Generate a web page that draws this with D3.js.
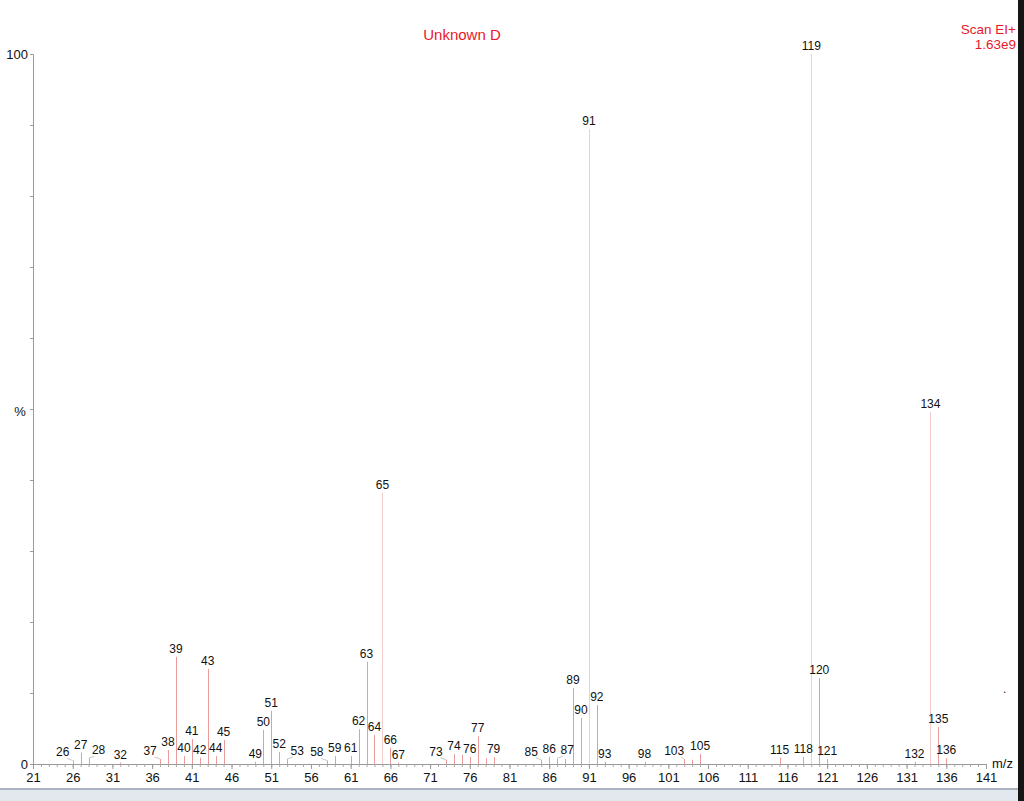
<!DOCTYPE html>
<html lang="en">
<head>
  <meta charset="UTF-8">
  <title>Unknown D</title>
  <script src="https://d3js.org/d3.v7.min.js"></script>
  <style>
    body { margin: 0; background: #fff; }
    svg { display: block; font-family: "Liberation Sans", Arial, Helvetica, sans-serif; }
  </style>
</head>
<body>
  <div id="spectrum"></div>
  <script>
    // peak list (m/z, relative intensity %)
    const mz = [26, 27, 28, 32, 37, 38, 39, 40, 41, 42, 43, 44, 45, 49, 50, 51, 52, 53,
                58, 59, 61, 62, 63, 64, 65, 66, 67, 73, 74, 75, 76, 77, 78, 79, 85, 86,
                87, 88, 89, 90, 91, 92, 93, 98, 103, 104, 105, 115, 118, 119, 120, 121,
                132, 134, 135, 136];
    const intensity = [0.5, 1.6, 0.8, 0.2, 0.7, 2.0, 15.1, 1.1, 3.5, 0.9, 13.4, 1.1, 3.4, 0.3, 4.8, 7.5, 1.7, 0.7,
                       0.5, 1.1, 1.1, 4.9, 14.4, 4.1, 38.2, 2.3, 0.2, 0.6, 1.4, 1.3, 1.0, 3.9, 0.8, 1.0, 0.6, 1.0,
                       0.8, 0.7, 10.7, 6.5, 89.4, 8.3, 0.3, 0.3, 0.7, 0.6, 1.4, 0.9, 1.0, 100, 12.1, 0.7,
                       0.3, 49.6, 5.2, 0.8];
    const unlabeled = [75, 78, 88, 104];
    const xTicks = d3.range(21, 142, 5);
    const yTicks = [0, 100];
    const title = "Unknown D";
    const scanInfo = ["Scan EI+", "1.63e9"];

    const W = 1024, H = 801;
    const margin = { top: 54, right: 38, bottom: 37, left: 33 };
    const plotH = H - margin.top - margin.bottom;

    const svg = d3.select("#spectrum").append("svg")
      .attr("width", W).attr("height", H);

    const x = d3.scaleLinear().domain([21, 141]).range([margin.left, 986]);
    const y = d3.scaleLinear().domain([0, 100]).range([margin.top + plotH, margin.top]);

    // window chrome at the edges of the screenshot
    svg.append("rect").attr("x", 0).attr("y", 788).attr("width", 1018).attr("height", 13).attr("fill", "#e3e7ee");
    svg.append("rect").attr("x", 0).attr("y", 788).attr("width", 1018).attr("height", 2).attr("fill", "#a9b2c0");
    svg.append("rect").attr("x", 1018).attr("y", 0).attr("width", 6).attr("height", H).attr("fill", "#151515");

    // titles
    svg.append("text").attr("x", 462).attr("y", 40).attr("text-anchor", "middle")
      .attr("font-size", 15).attr("fill", "#e8182a").text(title);
    svg.append("g").selectAll("text").data(scanInfo).join("text")
      .attr("x", 1016).attr("y", (d, i) => 34 + i * 15).attr("text-anchor", "end")
      .attr("font-size", 13.5).attr("fill", "#e8182a").text(d => d);

    // y axis
    const yAxis = svg.append("g").attr("transform", `translate(${margin.left},0)`)
      .call(d3.axisLeft(y).tickValues(d3.range(0, 101, 10)).tickSize(3).tickFormat(d => yTicks.includes(d) ? d : ""));
    yAxis.select(".domain").attr("stroke", "#9a9a9a");
    yAxis.selectAll(".tick line").attr("stroke", "#9a9a9a");
    yAxis.selectAll(".tick text").attr("font-size", 13).attr("fill", "#111").attr("x", -5)
      .attr("font-family", "Liberation Sans, Arial, sans-serif");
    svg.append("text").attr("x", 20).attr("y", 416).attr("text-anchor", "middle")
      .attr("font-size", 13).attr("fill", "#111").text("%");

    // x axis: minor ticks every unit, labelled every 5
    const xAxisMinor = svg.append("g").attr("transform", `translate(0,${y(0)})`)
      .call(d3.axisBottom(x).tickValues(d3.range(21, 142, 1)).tickSize(3).tickFormat(""));
    xAxisMinor.select(".domain").attr("stroke", "#9a9a9a");
    xAxisMinor.selectAll(".tick line").attr("stroke", "#a8a8a8");
    const xAxis = svg.append("g").attr("transform", `translate(0,${y(0)})`)
      .call(d3.axisBottom(x).tickValues(xTicks).tickSize(5).tickSizeOuter(0));
    xAxis.select(".domain").remove();
    xAxis.selectAll(".tick line").attr("stroke", "#9a9a9a");
    xAxis.selectAll(".tick text").attr("font-size", 13).attr("fill", "#111").attr("y", 9)
      .attr("font-family", "Liberation Sans, Arial, sans-serif");
    svg.append("text").attr("x", 992).attr("y", 768).attr("font-size", 13).attr("fill", "#111").text("m/z");
    svg.append("text").attr("x", 1003).attr("y", 693).attr("font-size", 12).attr("fill", "#333").text(".");

    const peaks = mz.map((m, i) => ({ mz: m, pct: intensity[i] }));

    // peak sticks
    svg.append("g").selectAll("line").data(peaks).join("line")
      .attr("x1", d => Math.round(x(d.mz)) + 0.5).attr("x2", d => Math.round(x(d.mz)) + 0.5)
      .attr("y1", y(0)).attr("y2", d => y(d.pct))
      .attr("stroke", d => d.pct > 20 ? "#f5cccc" : "#eb9a9a").attr("stroke-width", 1);

    // peak labels, placed greedily from the tallest peak down so they do not collide
    const leaderG = svg.append("g");
    const labelG = svg.append("g");
    const placed = [];
    const offsets = [];
    [0, -6, 6, -10, 10, -14, 14].forEach(dx => [0, -3, -6, -9, -12, -16, -20, -26].forEach(dy => offsets.push([dx, dy])));
    offsets.sort((a, b) => (Math.abs(a[0]) + 1.2 * Math.abs(a[1])) - (Math.abs(b[0]) + 1.2 * Math.abs(b[1])));

    peaks.filter(p => !unlabeled.includes(p.mz))
      .sort((a, b) => b.pct - a.pct)
      .forEach(p => {
        const t = labelG.append("text").attr("font-size", 12).attr("fill", "#111")
          .attr("text-anchor", "middle").text(p.mz);
        const w = t.node().getComputedTextLength();
        const px = x(p.mz), py = y(p.pct) - 4;
        let best = offsets[0];
        for (const o of offsets) {
          const box = { x0: px + o[0] - w / 2 - 1, x1: px + o[0] + w / 2 + 1, y0: py + o[1] - 10, y1: py + o[1] + 1 };
          const hit = placed.some(b => box.x0 < b.x1 && box.x1 > b.x0 && box.y0 < b.y1 && box.y1 > b.y0);
          if (!hit) { best = o; break; }
        }
        const lx = px + best[0], ly = py + best[1];
        placed.push({ x0: lx - w / 2 - 1, x1: lx + w / 2 + 1, y0: ly - 10, y1: ly + 1 });
        t.attr("x", lx).attr("y", ly);
        if (best[0] !== 0 || best[1] !== 0) {
          leaderG.append("line")
            .attr("x1", lx + Math.sign(-best[0]) * w / 3).attr("y1", ly + 2)
            .attr("x2", px).attr("y2", y(p.pct))
            .attr("stroke", "#c8c8c8").attr("stroke-width", 1);
        }
      });
  </script>
</body>
</html>
